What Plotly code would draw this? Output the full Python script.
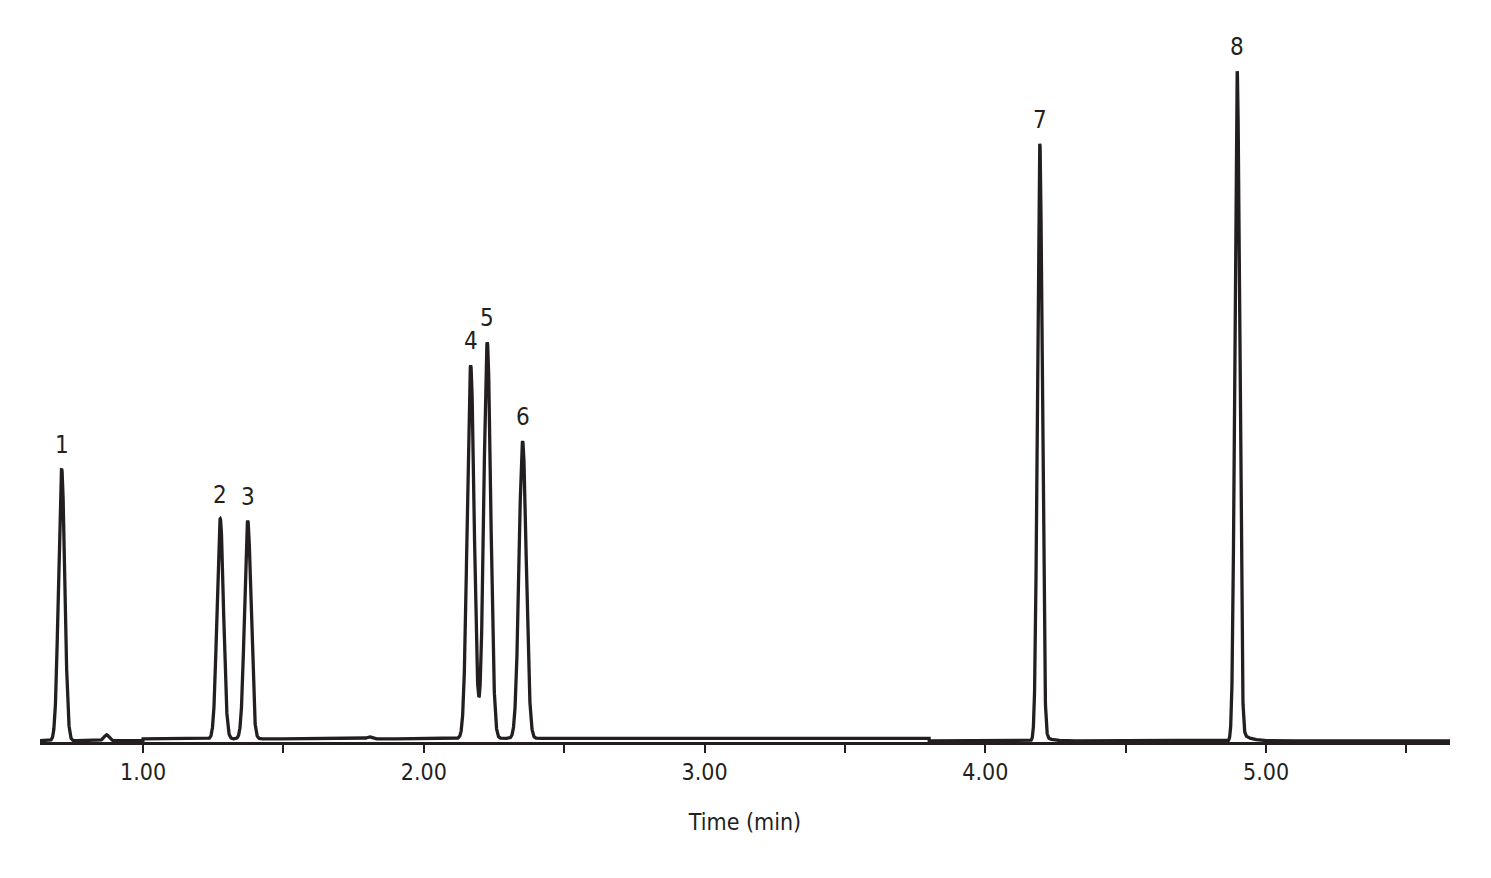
import numpy as np
import plotly.graph_objects as go

# ---- data ----
peak_labels = ["1", "2", "3", "4", "5", "6", "7", "8"]
peak_times = [0.710, 1.275, 1.373, 2.167, 2.226, 2.352, 4.194, 4.897]      # min
peak_heights = [272.0, 220.0, 218.0, 373.0, 396.0, 297.0, 593.0, 663.0]    # signal units
peak_sigmas = [0.0110, 0.0114, 0.0114, 0.0122, 0.0122, 0.0127, 0.0084, 0.0084]
peak_tail_frac = [0.0, 0.0, 0.0, 0.0, 0.0, 0.0, 0.015, 0.02]
peak_tail_tau = [0.02, 0.02, 0.02, 0.02, 0.02, 0.02, 0.025, 0.03]

minor_times = [0.870, 1.805]
minor_heights = [6.0, 2.0]
minor_sigmas = [0.009, 0.008]

baseline_start = [0.633, 1.000, 2.000, 3.800]
baseline_level = [1.3, 3.2, 3.6, 1.0]

x_range = [0.633, 5.655]
tick_vals = [1.0, 1.5, 2.0, 2.5, 3.0, 3.5, 4.0, 4.5, 5.0, 5.5]
tick_text = ["1.00", "", "2.00", "", "3.00", "", "4.00", "", "5.00", ""]

# ---- build trace ----
t = np.linspace(x_range[0], x_range[1], 12000)
sig = np.zeros_like(t)
for s, lvl in zip(baseline_start, baseline_level):
    sig[t >= s] = lvl
for t0, h, s, tf, tau in zip(peak_times, peak_heights, peak_sigmas, peak_tail_frac, peak_tail_tau):
    sig += h * np.exp(-0.5 * ((t - t0) / s) ** 2)
    if tf > 0:
        gate = 0.5 * (1 + np.tanh((t - t0) / s))
        sig += h * tf * np.exp(-np.clip(t - t0, 0, None) / tau) * gate
for t0, h, s in zip(minor_times, minor_heights, minor_sigmas):
    sig += h * np.exp(-0.5 * ((t - t0) / s) ** 2)

INK = "#231f20"
FONT = "DejaVu Sans Condensed, Liberation Sans Narrow, Roboto, sans-serif"

fig = go.Figure()
fig.add_trace(go.Scatter(x=t, y=sig, mode="lines",
                         line=dict(color=INK, width=3.3), hoverinfo="skip",
                         showlegend=False))

for lab, t0, h in zip(peak_labels, peak_times, peak_heights):
    top = float(np.interp(t0, t, sig))
    fig.add_annotation(x=t0, y=top, text=lab, showarrow=False,
                       xanchor="center", yanchor="bottom", yshift=8,
                       font=dict(family=FONT, size=24, color=INK))

fig.update_layout(
    width=1491, height=878,
    margin=dict(l=40, r=41, t=30, b=136),
    paper_bgcolor="white", plot_bgcolor="white",
    xaxis=dict(range=x_range, showgrid=False, zeroline=False,
               showline=True, linecolor=INK, linewidth=2.7,
               ticks="outside", ticklen=8, tickwidth=2, tickcolor=INK,
               tickvals=tick_vals, ticktext=tick_text,
               tickfont=dict(family=FONT, size=23, color=INK),
               ticklabelstandoff=0,
               title=dict(text="Time (min)", standoff=30,
                          font=dict(family=FONT, size=23, color=INK))),
    yaxis=dict(range=[0, 712], visible=False),
)

fig.write_html("out.html")
